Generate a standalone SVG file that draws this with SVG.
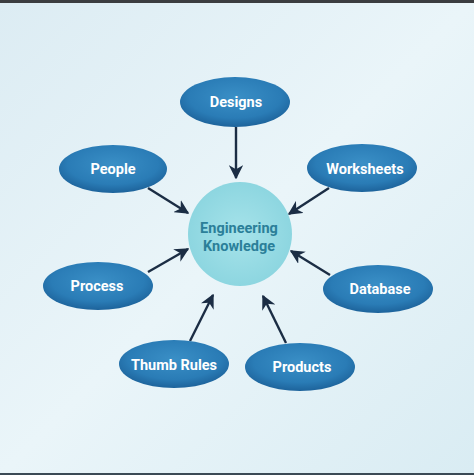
<svg xmlns="http://www.w3.org/2000/svg" width="474" height="475" viewBox="0 0 474 475">
<defs>
<linearGradient id="bg" x1="0" y1="0" x2="1" y2="1">
<stop offset="0" stop-color="#dcecf3"/>
<stop offset="0.5" stop-color="#eaf5f9"/>
<stop offset="1" stop-color="#d9ecf3"/>
</linearGradient>
<radialGradient id="ell" cx="0.5" cy="0.4" r="0.6">
<stop offset="0" stop-color="#3a8fc6"/>
<stop offset="0.7" stop-color="#2a7cb6"/>
<stop offset="1" stop-color="#1d639b"/>
</radialGradient>
<radialGradient id="hub" cx="0.5" cy="0.5" r="0.5">
<stop offset="0" stop-color="#a6e3ea"/>
<stop offset="1" stop-color="#8dd6e0"/>
</radialGradient>
<marker id="ah" viewBox="0 0 10 10" refX="9" refY="5" markerWidth="6" markerHeight="6" orient="auto" markerUnits="strokeWidth">
<path d="M0,0 L10,5 L0,10 L3,5 Z" fill="#1b2d44"/>
</marker>
<style>
.n ellipse{fill:url(#ell);}
.n text{font-family:Roboto,"Liberation Sans",sans-serif;font-weight:bold;font-size:14.5px;fill:#ffffff;text-anchor:middle;}
#hubnode text{font-family:Roboto,"Liberation Sans",sans-serif;font-weight:bold;font-size:14.5px;fill:#2b7f99;text-anchor:middle;}
#edges line{stroke:#1b2d44;stroke-width:2.4;marker-end:url(#ah);}
</style>
</defs>
<rect x="0" y="0" width="474" height="475" fill="url(#bg)"/>
<rect x="0" y="0" width="474" height="3" fill="#3b3d40"/>
<rect x="0" y="473" width="474" height="2" fill="#3b4a55"/>
<g id="edges">
<line x1="236" y1="127" x2="236" y2="178"/>
<line x1="148" y1="188" x2="188" y2="213"/>
<line x1="329" y1="188" x2="289" y2="214"/>
<line x1="148" y1="272" x2="188" y2="249"/>
<line x1="330" y1="275" x2="291" y2="251"/>
<line x1="190" y1="341" x2="213" y2="295"/>
<line x1="286" y1="343" x2="263" y2="296"/>
</g>
<g id="hubnode">
<circle cx="240" cy="234" r="52" fill="url(#hub)"/>
<text x="239" y="233">Engineering</text>
<text x="239" y="251">Knowledge</text>
</g>
<g id="designs" class="n"><ellipse cx="235" cy="102" rx="55" ry="25"/><text x="236" y="107">Designs</text></g>
<g id="people" class="n"><ellipse cx="113" cy="169" rx="54" ry="24"/><text x="113" y="174">People</text></g>
<g id="worksheets" class="n"><ellipse cx="362" cy="168" rx="55" ry="24"/><text x="365" y="174">Worksheets</text></g>
<g id="process" class="n"><ellipse cx="98" cy="286" rx="55" ry="24"/><text x="97" y="291">Process</text></g>
<g id="database" class="n"><ellipse cx="378" cy="289" rx="55" ry="24"/><text x="380" y="294">Database</text></g>
<g id="thumbrules" class="n"><ellipse cx="174" cy="364" rx="55" ry="24"/><text x="174" y="370">Thumb Rules</text></g>
<g id="products" class="n"><ellipse cx="300" cy="367" rx="55" ry="24"/><text x="302" y="372">Products</text></g>
</svg>
